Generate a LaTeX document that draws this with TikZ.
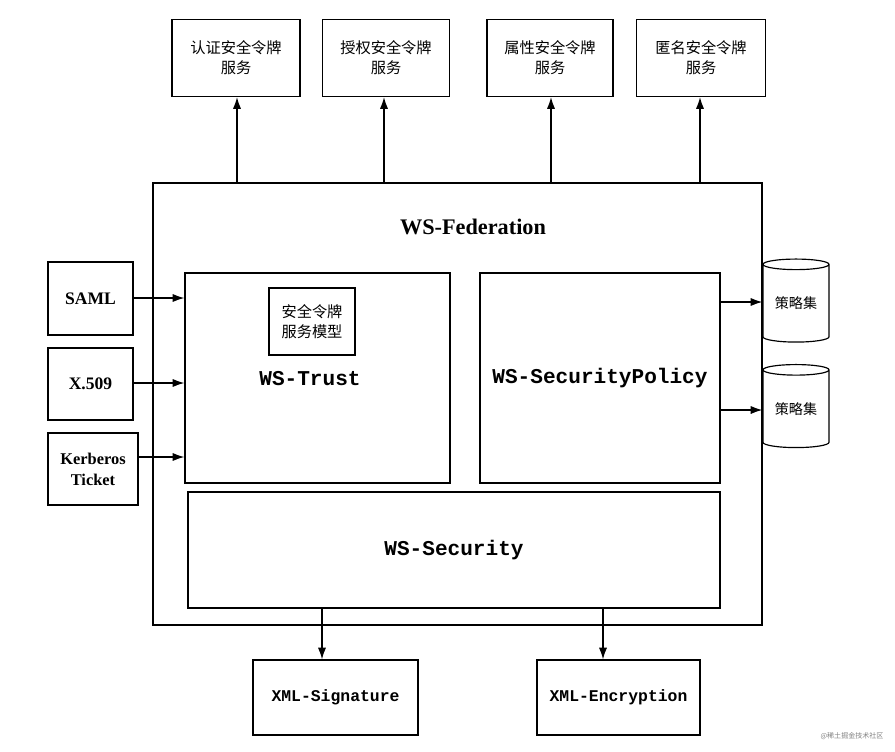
\documentclass[tikz,border=0pt]{standalone}
\usepackage{fontspec}
\setmainfont{Liberation Serif}
\newfontfamily\cjk{Noto Sans CJK SC}
\newfontfamily\monob{Liberation Mono}
\usetikzlibrary{shapes.geometric,arrows.meta}
\begin{document}
\begin{tikzpicture}[x=0.03cm,y=-0.03cm,
  box/.style={draw,line width=1pt,inner sep=0pt,align=center},
  arr/.style={-{Latex[length=10pt,width=7pt]},line width=1.2pt},
  cj/.style={font=\cjk\fontsize{13}{17}\selectfont},
  mono/.style={font=\monob\bfseries\fontsize{18}{21}\selectfont},
  lbl/.style={font=\bfseries\fontsize{15}{18}\selectfont},
  db/.style={draw,line width=1pt,cylinder,shape border rotate=90,aspect=0.25,minimum width=66*0.03cm,minimum height=83*0.03cm,inner sep=0pt,font=\cjk\fontsize{12}{14}\selectfont}]
\useasboundingbox (0,0) rectangle (895,751);
% top boxes
\node[box,cj,minimum width=128*0.03cm,minimum height=77*0.03cm] (t1) at (236,58) {认证安全令牌\\服务};
\node[box,cj,minimum width=127*0.03cm,minimum height=77*0.03cm] (t2) at (386,58) {授权安全令牌\\服务};
\node[box,cj,minimum width=126*0.03cm,minimum height=77*0.03cm] (t3) at (550,58) {属性安全令牌\\服务};
\node[box,cj,minimum width=129*0.03cm,minimum height=77*0.03cm] (t4) at (701,58) {匿名安全令牌\\服务};
% outer
\node[box,minimum width=609*0.03cm,minimum height=442*0.03cm] (fed) at (457.5,404) {};
\node[font=\bfseries\fontsize{19}{22}\selectfont] (fedl) at (473,227) {WS-Federation};
\foreach \i/\x in {1/237,2/384,3/551,4/700}{
  \coordinate (s\i) at (\x,183);
  \draw[arr] (s\i) -- (s\i |- t\i.south);
}
% inner
\node[box,minimum width=265*0.03cm,minimum height=210*0.03cm] (trust) at (317.5,378) {};
\node[box,cj,minimum width=86*0.03cm,minimum height=67*0.03cm] (stm) at (312,321.5) {安全令牌\\服务模型};
\node[mono] (trustl) at (310,379) {WS-Trust};
\node[box,mono,minimum width=240*0.03cm,minimum height=210*0.03cm] (pol) at (600,378) {WS-SecurityPolicy};
\node[box,mono,minimum width=532*0.03cm,minimum height=116*0.03cm] (sec) at (454,550) {WS-Security};
% left
\node[box,lbl,minimum width=85*0.03cm,minimum height=73*0.03cm] (saml) at (90.5,298.5) {SAML};
\node[box,lbl,minimum width=85*0.03cm,minimum height=72*0.03cm] (x509) at (90.5,384) {X.509};
\node[box,lbl,font=\bfseries\fontsize{14}{18}\selectfont,minimum width=90*0.03cm,minimum height=72*0.03cm] (kerb) at (93,469) {Kerberos\\Ticket};
\draw[arr] (saml.east |- 0,298) -- (trust.west |- 0,298);
\draw[arr] (x509.east |- 0,383) -- (trust.west |- 0,383);
\draw[arr] (kerb.east |- 0,457) -- (trust.west |- 0,457);
% cylinders
\node[db] (c1) at (796,303.5) {策略集};
\node[db] (c2) at (796,409) {策略集};
\draw[arr] (pol.east |- 0,302) -- (c1.west |- 0,302);
\draw[arr] (pol.east |- 0,410) -- (c2.west |- 0,410);
% bottom
\node[box,font=\monob\bfseries\fontsize{14}{17}\selectfont,minimum width=165*0.03cm,minimum height=75*0.03cm] (sig) at (335.5,697.5) {XML-Signature};
\node[box,font=\monob\bfseries\fontsize{14}{17}\selectfont,minimum width=163*0.03cm,minimum height=75*0.03cm] (enc) at (618.5,697.5) {XML-Encryption};
\coordinate (b1) at (322,608);
\coordinate (b2) at (603,608);
\draw[arr] (b1) -- (b1 |- sig.north);
\draw[arr] (b2) -- (b2 |- enc.north);
\node[text=gray,font=\cjk\fontsize{6}{7}\selectfont] (wm) at (852,736) {@稀土掘金技术社区};
\end{tikzpicture}
\end{document}
